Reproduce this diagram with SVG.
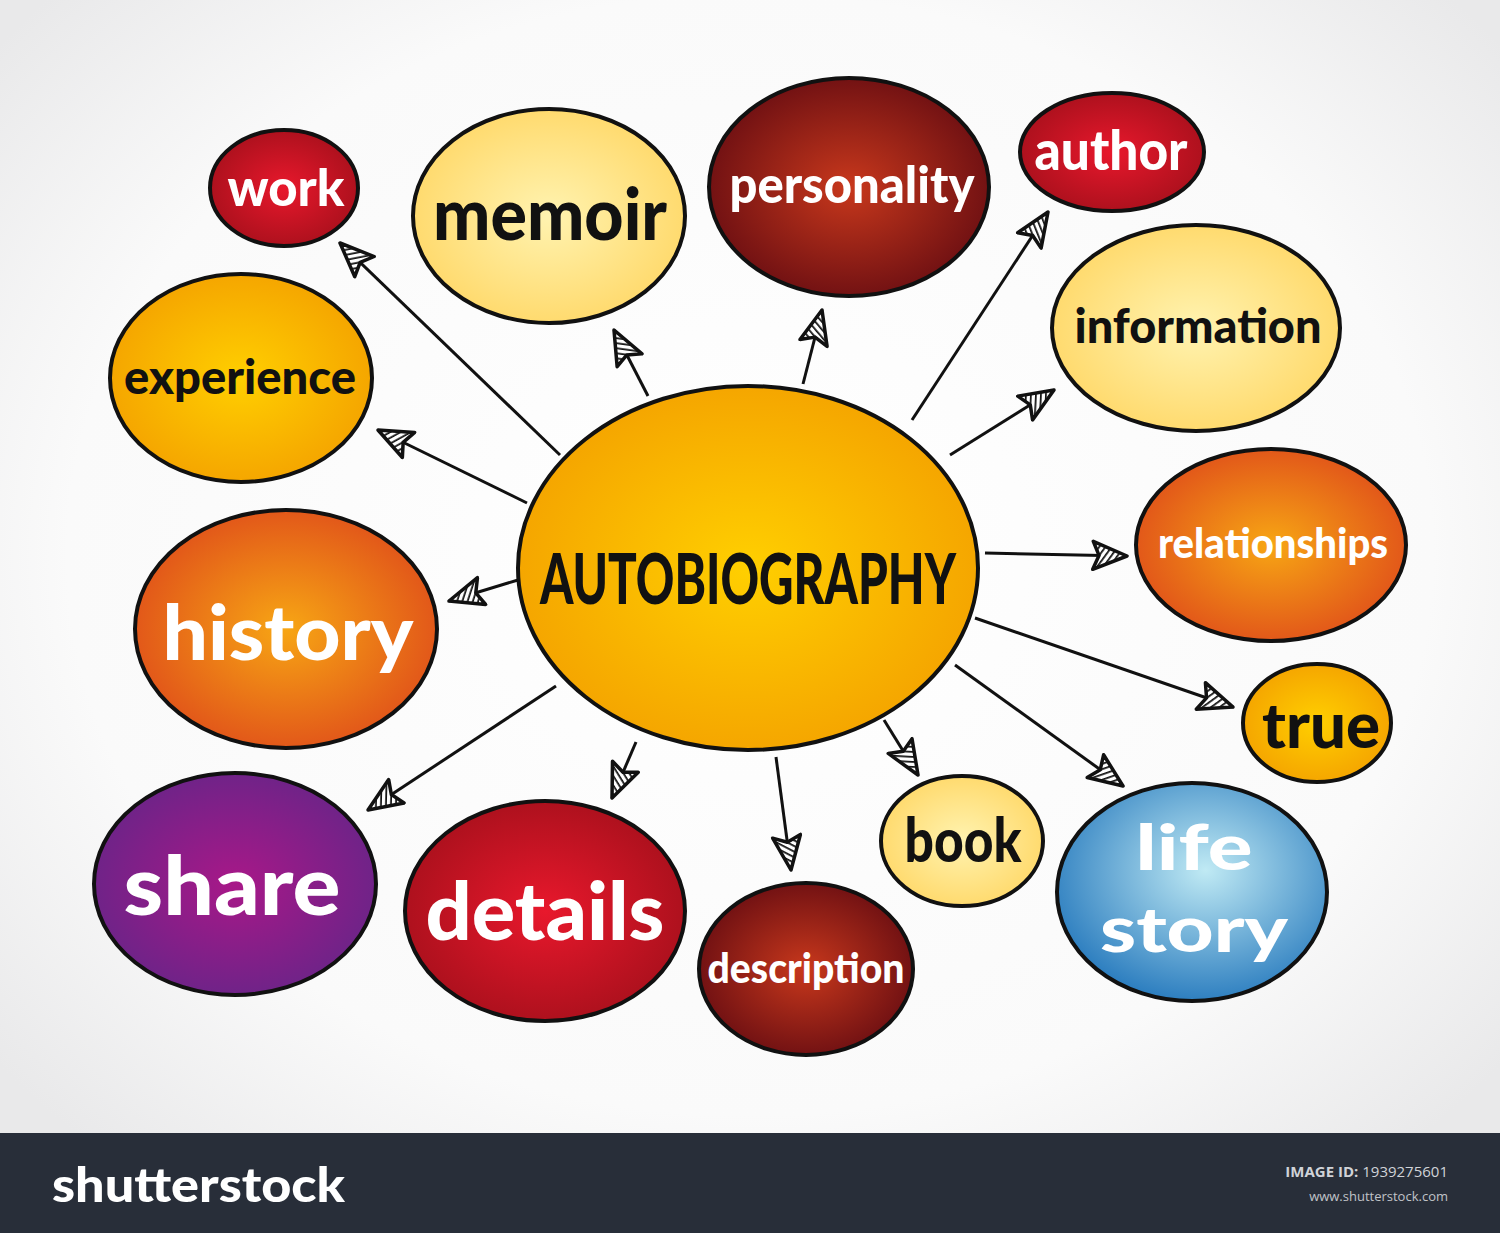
<svg xmlns="http://www.w3.org/2000/svg" width="1500" height="1233" viewBox="0 0 1500 1233">
<defs>
<radialGradient id="bg" cx="50%" cy="45%" r="65%"><stop offset="0" stop-color="#ffffff"/><stop offset="0.7" stop-color="#fafafa"/><stop offset="1" stop-color="#e9e9ea"/></radialGradient>
<radialGradient id="gOrange" cx="50%" cy="50%" r="55%"><stop offset="0" stop-color="#ffcf00"/><stop offset="1" stop-color="#f4a200"/></radialGradient>
<radialGradient id="gPale" cx="50%" cy="50%" r="55%"><stop offset="0" stop-color="#fff3b0"/><stop offset="1" stop-color="#ffd868"/></radialGradient>
<radialGradient id="gRed" cx="50%" cy="50%" r="55%"><stop offset="0" stop-color="#e8182c"/><stop offset="1" stop-color="#a8101c"/></radialGradient>
<radialGradient id="gMaroon" cx="50%" cy="50%" r="55%"><stop offset="0" stop-color="#c8381c"/><stop offset="1" stop-color="#6a0e12"/></radialGradient>
<radialGradient id="gRedOr" cx="50%" cy="50%" r="55%"><stop offset="0" stop-color="#f7a614"/><stop offset="1" stop-color="#e0501a"/></radialGradient>
<radialGradient id="gPurple" cx="50%" cy="50%" r="55%"><stop offset="0" stop-color="#a81888"/><stop offset="1" stop-color="#6a2488"/></radialGradient>
<radialGradient id="gBlue" cx="55%" cy="40%" r="60%"><stop offset="0" stop-color="#c0eaf4"/><stop offset="1" stop-color="#2e7fc0"/></radialGradient>
<pattern id="hatch" width="5" height="5" patternUnits="userSpaceOnUse" patternTransform="rotate(35)"><rect width="5" height="5" fill="#fff"/><line x1="0" y1="0" x2="0" y2="5" stroke="#111" stroke-width="3.5"/></pattern>
<marker id="ah" markerWidth="40" markerHeight="34" refX="36" refY="16" orient="auto" markerUnits="userSpaceOnUse">
<path d="M2,2 L36,16 L2,30 L8,16 z" fill="url(#hatch)" stroke="#111" stroke-width="3.5" stroke-linejoin="round"/>
</marker>
</defs>
<style>
.node{stroke:#111;stroke-width:4}
.t{font-family:Lato,"Open Sans","Liberation Sans",sans-serif;font-weight:900;text-anchor:middle}
.w{fill:#fff}
.b{fill:#111}
.c line{stroke:#111;stroke-width:3;marker-end:url(#ah)}
</style>
<rect width="1500" height="1233" fill="url(#bg)"/>

<g id="connectors" class="c">
<line x1="560" y1="455" x2="340" y2="243"/>
<line x1="648" y1="396" x2="614" y2="330"/>
<line x1="803" y1="384" x2="822" y2="310"/>
<line x1="912" y1="420" x2="1048" y2="212"/>
<line x1="950" y1="455" x2="1054" y2="390"/>
<line x1="527" y1="503" x2="378" y2="430"/>
<line x1="985" y1="553" x2="1127" y2="556"/>
<line x1="518" y1="580" x2="449" y2="601"/>
<line x1="975" y1="618" x2="1233" y2="707"/>
<line x1="955" y1="665" x2="1123" y2="786"/>
<line x1="884" y1="720" x2="918" y2="775"/>
<line x1="776" y1="757" x2="791" y2="870"/>
<line x1="636" y1="742" x2="612" y2="798"/>
<line x1="556" y1="686" x2="368" y2="810"/>
</g>

<g id="center">
<ellipse class="node" cx="748" cy="568" rx="230" ry="182" fill="url(#gOrange)" stroke-width="5"/>
<text class="t b" x="748" y="604" font-size="70" textLength="416" lengthAdjust="spacingAndGlyphs">AUTOBIOGRAPHY</text>
</g>
<g id="work">
<ellipse class="node" cx="284" cy="188" rx="74" ry="58" fill="url(#gRed)"/>
<text class="t w" x="286" y="206" font-size="52" textLength="117" lengthAdjust="spacingAndGlyphs">work</text>
</g>
<g id="memoir">
<ellipse class="node" cx="549" cy="216" rx="136" ry="107" fill="url(#gPale)"/>
<text class="t b" x="550" y="240" font-size="72" textLength="234" lengthAdjust="spacingAndGlyphs">memoir</text>
</g>
<g id="personality">
<ellipse class="node" cx="849" cy="187" rx="140" ry="109" fill="url(#gMaroon)"/>
<text class="t w" x="852" y="203" font-size="52" textLength="245" lengthAdjust="spacingAndGlyphs">personality</text>
</g>
<g id="author">
<ellipse class="node" cx="1112" cy="152" rx="92" ry="59" fill="url(#gRed)"/>
<text class="t w" x="1111" y="170" font-size="56" textLength="153" lengthAdjust="spacingAndGlyphs">author</text>
</g>
<g id="information">
<ellipse class="node" cx="1196" cy="328" rx="144" ry="103" fill="url(#gPale)"/>
<text class="t b" x="1198" y="343" font-size="48" textLength="247" lengthAdjust="spacingAndGlyphs">information</text>
</g>
<g id="experience">
<ellipse class="node" cx="241" cy="378" rx="131" ry="104" fill="url(#gOrange)"/>
<text class="t b" x="240" y="394" font-size="48" textLength="232" lengthAdjust="spacingAndGlyphs">experience</text>
</g>
<g id="relationships">
<ellipse class="node" cx="1271" cy="545" rx="135" ry="96" fill="url(#gRedOr)"/>
<text class="t w" x="1273" y="558" font-size="42" textLength="230" lengthAdjust="spacingAndGlyphs">relationships</text>
</g>
<g id="history">
<ellipse class="node" cx="286" cy="629" rx="151" ry="119" fill="url(#gRedOr)"/>
<text class="t w" x="288" y="660" font-size="76" textLength="251" lengthAdjust="spacingAndGlyphs">history</text>
</g>
<g id="true">
<ellipse class="node" cx="1317" cy="723" rx="74" ry="59" fill="url(#gOrange)"/>
<text class="t b" x="1321" y="748" font-size="62" textLength="118" lengthAdjust="spacingAndGlyphs">true</text>
</g>
<g id="share">
<ellipse class="node" cx="235" cy="884" rx="141" ry="111" fill="url(#gPurple)"/>
<text class="t w" x="232" y="915" font-size="82" textLength="217" lengthAdjust="spacingAndGlyphs">share</text>
</g>
<g id="details">
<ellipse class="node" cx="545" cy="911" rx="140" ry="110" fill="url(#gRed)"/>
<text class="t w" x="545" y="940" font-size="80" textLength="239" lengthAdjust="spacingAndGlyphs">details</text>
</g>
<g id="description">
<ellipse class="node" cx="806" cy="969" rx="107" ry="86" fill="url(#gMaroon)"/>
<text class="t w" x="806" y="983" font-size="42" textLength="197" lengthAdjust="spacingAndGlyphs">description</text>
</g>
<g id="book">
<ellipse class="node" cx="962" cy="841" rx="81" ry="65" fill="url(#gPale)"/>
<text class="t b" x="963" y="862" font-size="60" textLength="117" lengthAdjust="spacingAndGlyphs">book</text>
</g>
<g id="lifestory">
<ellipse class="node" cx="1192" cy="892" rx="135" ry="109" fill="url(#gBlue)"/>
<text class="t w" x="1194" y="870" font-size="62" textLength="117" lengthAdjust="spacingAndGlyphs">life</text>
<text class="t w" x="1194" y="952" font-size="62" textLength="188" lengthAdjust="spacingAndGlyphs">story</text>
</g>

<g id="footer">
<rect x="0" y="1133" width="1500" height="100" fill="#282e39"/>
<text x="52" y="1202" font-family="Lato,'Open Sans',sans-serif" font-weight="900" font-size="48" fill="#fff" textLength="293" lengthAdjust="spacingAndGlyphs">shutterstock</text>
<text x="1448" y="1177" font-family="'Open Sans','Liberation Sans',sans-serif" font-size="15" fill="#d0d3d8" text-anchor="end"><tspan font-weight="bold">IMAGE ID:</tspan> 1939275601</text>
<text x="1448" y="1201" font-family="'Open Sans','Liberation Sans',sans-serif" font-size="13" fill="#c0c3c8" text-anchor="end">www.shutterstock.com</text>
</g>
</svg>
